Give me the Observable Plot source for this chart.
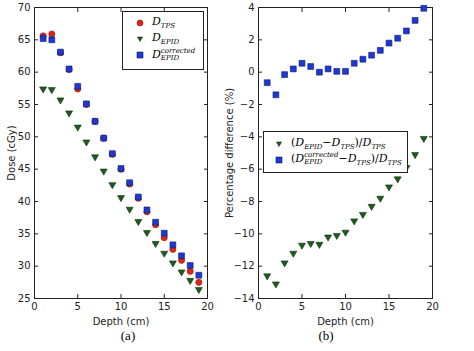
<!DOCTYPE html>
<html><head><meta charset="utf-8">
<script src="https://cdn.jsdelivr.net/npm/d3@7"></script>
<script src="https://cdn.jsdelivr.net/npm/@observablehq/plot@0.6"></script>
<style>
body{margin:0;background:#fff;}
#wrap{position:relative;width:474px;height:351px;overflow:hidden;font-family:"DejaVu Sans",sans-serif;}
.panel{position:absolute;top:0;}
.legend{position:absolute;background:#fff;border:1px solid #222;font-family:"DejaVu Serif",serif;font-size:11px;box-sizing:border-box;}
.row{position:absolute;display:flex;align-items:center;white-space:nowrap;}
.row svg{margin-right:8px;}
.cap{position:absolute;font-family:"Liberation Serif","DejaVu Serif",serif;font-size:13px;transform:translateX(-50%);}
sub,sup{font-size:7px;font-style:italic;}
.stack{display:inline-flex;flex-direction:column;line-height:7px;font-size:7px;font-style:italic;vertical-align:middle;}
</style></head>
<body><div id="wrap"></div>
<script>
const depth = [1,2,3,4,5,6,7,8,9,10,11,12,13,14,15,16,17,18,19];
const doseTPS = [65.6,65.9,63.0,60.4,57.4,55.0,52.4,49.8,47.3,45.0,42.7,40.5,38.4,36.4,34.4,32.6,30.9,29.2,27.5];
const doseEPID = [57.4,57.3,55.7,53.7,51.5,49.2,46.9,44.7,42.6,40.6,38.8,36.9,35.2,33.5,32.0,30.5,29.1,27.8,26.4];
const doseCorr = [65.2,65.0,63.1,60.5,57.8,55.1,52.4,49.8,47.4,45.1,42.9,40.7,38.7,36.8,35.1,33.3,31.6,30.1,28.6];
const pctEPID = [-12.6,-13.1,-11.8,-11.2,-10.7,-10.6,-10.65,-10.2,-10.1,-9.9,-9.2,-8.8,-8.3,-7.8,-7.1,-6.6,-5.9,-5.1,-4.1];
const pctCorr = [-0.65,-1.4,-0.15,0.2,0.55,0.35,0.0,0.2,0.05,0.05,0.55,0.8,1.05,1.35,1.8,2.1,2.55,3.2,3.95];
const xTicks = [0,5,10,15,20];
const yTicksA = [25,30,35,40,45,50,55,60,65,70];
const yTicksB = [-14,-12,-10,-8,-6,-4,-2,0,2,4];

const RED="#e02418", GREEN="#1d5c1d", BLUE="#1c38d8";
const rows = (ys) => depth.map((d,i)=>({d, v: ys[i]}));

function frameAxes(yTicks, ylabel, labelOffset){
  const tf = d => d < 0 ? "\u2212" + Math.abs(d) : String(d);
  return [
    Plot.frame({stroke:"#222"}),
    Plot.axisX({anchor:"bottom", ticks:xTicks, tickSize:-4, tickPadding:8, label:"Depth (cm)", labelAnchor:"center", labelOffset:26, labelArrow:"none", fontSize:10}),
    Plot.axisX({anchor:"top", ticks:xTicks, tickSize:-4, tickFormat:()=>"", label:null}),
    Plot.axisY({anchor:"left", ticks:yTicks, tickSize:-4, tickPadding:8, tickFormat:tf, label:ylabel, labelAnchor:"center", labelOffset, labelArrow:"none", fontSize:10}),
    Plot.axisY({anchor:"right", ticks:yTicks, tickSize:-4, tickFormat:()=>"", label:null})
  ];
}

const plotA = Plot.plot({
  width:237, height:330, marginTop:7, marginBottom:32, marginLeft:34, marginRight:30,
  style:{fontFamily:"DejaVu Sans, sans-serif", fontSize:"10px", color:"#222"},
  x:{domain:[0,20]}, y:{domain:[25,70]},
  marks:[
    ...frameAxes(yTicksA, "Dose (cGy)", 27),
    Plot.dot(rows(doseTPS), {x:"d", y:"v", r:3.1, fill:RED, stroke:"#8a1a10", strokeWidth:0.6}),
    Plot.dot(rows(doseEPID), {x:"d", y:"v", symbol:"triangle", rotate:180, r:2.6, fill:GREEN, stroke:"#0c300c", strokeWidth:0.6}),
    Plot.dot(rows(doseCorr), {x:"d", y:"v", symbol:"square", r:3.3, fill:BLUE, stroke:"#101a60", strokeWidth:0.6})
  ]
});

const plotB = Plot.plot({
  width:264, height:330, marginTop:7, marginBottom:32, marginLeft:48, marginRight:42,
  style:{fontFamily:"DejaVu Sans, sans-serif", fontSize:"10px", color:"#222"},
  x:{domain:[0,20]}, y:{domain:[-14,4]},
  marks:[
    ...frameAxes(yTicksB, "Percentage difference (%)", 33),
    Plot.dot(rows(pctEPID), {x:"d", y:"v", symbol:"triangle", rotate:180, r:2.6, fill:GREEN, stroke:"#0c300c", strokeWidth:0.6}),
    Plot.dot(rows(pctCorr), {x:"d", y:"v", symbol:"square", r:3.3, fill:BLUE, stroke:"#101a60", strokeWidth:0.6})
  ]
});

const wrap = document.getElementById("wrap");
const pa = document.createElement("div"); pa.className="panel"; pa.style.left="0px"; pa.appendChild(plotA); wrap.appendChild(pa);
const pb = document.createElement("div"); pb.className="panel"; pb.style.left="210px"; pb.appendChild(plotB); wrap.appendChild(pb);

const sym = {
  circle:`<svg width="8" height="8"><circle cx="4" cy="4" r="3" fill="${RED}" stroke="#8a1a10" stroke-width="0.6"/></svg>`,
  tri:`<svg width="8" height="8"><path d="M1.5,2L6.5,2L4,6.5Z" fill="${GREEN}" stroke="#0c300c" stroke-width="0.6"/></svg>`,
  sq:`<svg width="8" height="8"><rect x="1" y="1" width="6" height="6" fill="${BLUE}" stroke="#101a60" stroke-width="0.6"/></svg>`
};
const D = `<i>D</i>`;
const corr = `<span class="stack"><span>corrected</span><span>EPID</span></span>`;

function legend(x,y,w,h,items){
  const L = document.createElement("div"); L.className="legend";
  Object.assign(L.style,{left:x+"px",top:y+"px",width:w+"px",height:h+"px"});
  items.forEach(([sy, html, ry, tx])=>{
    const r=document.createElement("div"); r.className="row";
    Object.assign(r.style,{left:(tx||13)+"px",top:ry+"px"});
    r.innerHTML = sym[sy] + `<span>${html}</span>`;
    L.appendChild(r);
  });
  wrap.appendChild(L);
}
legend(122,11,82,59,[
  ["circle", `${D}<sub>TPS</sub>`, 3],
  ["tri", `${D}<sub>EPID</sub>`, 19],
  ["sq", `${D}${corr}`, 36]
]);
legend(263,131,145,42,[
  ["tri", `(${D}<sub>EPID</sub>\u2212${D}<sub>TPS</sub>)/${D}<sub>TPS</sub>`, 4, 11],
  ["sq", `(${D}${corr}\u2212${D}<sub>TPS</sub>)/${D}<sub>TPS</sub>`, 20, 11]
]);

const ca = document.createElement("div"); ca.className="cap"; ca.textContent="(a)"; Object.assign(ca.style,{left:"128px",top:"328px"}); wrap.appendChild(ca);
const cb = document.createElement("div"); cb.className="cap"; cb.textContent="(b)"; Object.assign(cb.style,{left:"326px",top:"328px"}); wrap.appendChild(cb);
</script></body></html>
